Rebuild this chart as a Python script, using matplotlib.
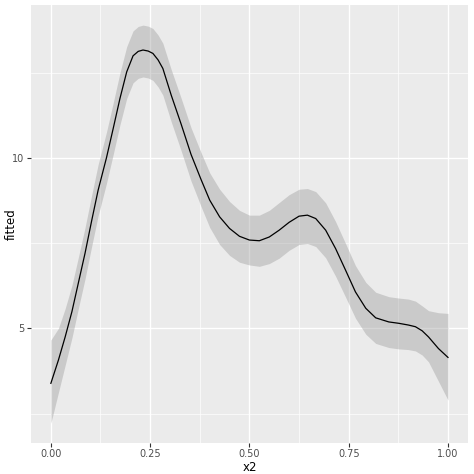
import numpy as np
import matplotlib
matplotlib.use("Agg")
import matplotlib.pyplot as plt

# values (smooth fit with its confidence band)
x2 = [0.000, 0.019, 0.036, 0.053, 0.069, 0.086, 0.103, 0.119, 0.140, 0.157,
      0.174, 0.191, 0.207, 0.220, 0.232, 0.245, 0.257, 0.270, 0.282, 0.303,
      0.328, 0.353, 0.378, 0.400, 0.425, 0.450, 0.475, 0.500, 0.525, 0.550,
      0.575, 0.600, 0.625, 0.646, 0.667, 0.692, 0.717, 0.742, 0.767, 0.793,
      0.818, 0.851, 0.876, 0.900, 0.918, 0.935, 0.951, 0.976, 1.000]
fitted = [3.39, 4.07, 4.75, 5.49, 6.32, 7.20, 8.17, 9.05, 10.00, 10.86,
          11.74, 12.52, 12.99, 13.12, 13.16, 13.13, 13.06, 12.87, 12.62, 11.84,
          10.99, 10.10, 9.37, 8.76, 8.27, 7.93, 7.70, 7.59, 7.57, 7.68,
          7.88, 8.11, 8.29, 8.32, 8.22, 7.88, 7.34, 6.71, 6.07, 5.59,
          5.31, 5.19, 5.15, 5.10, 5.05, 4.93, 4.75, 4.41, 4.15]
upper = [4.66, 5.00, 5.58, 6.26, 7.07, 7.95, 8.92, 9.80, 10.75, 11.61,
         12.49, 13.26, 13.72, 13.85, 13.89, 13.86, 13.79, 13.60, 13.36, 12.59,
         11.75, 10.88, 10.16, 9.56, 9.08, 8.72, 8.46, 8.32, 8.32, 8.46,
         8.69, 8.92, 9.08, 9.10, 9.01, 8.68, 8.13, 7.49, 6.84, 6.35,
         6.06, 5.93, 5.89, 5.86, 5.80, 5.66, 5.52, 5.46, 5.44]
lower = [2.22, 3.12, 3.92, 4.72, 5.57, 6.45, 7.42, 8.30, 9.25, 10.10,
         10.97, 11.74, 12.20, 12.33, 12.37, 12.34, 12.27, 12.08, 11.84, 11.06,
         10.21, 9.32, 8.58, 7.96, 7.46, 7.14, 6.94, 6.86, 6.82, 6.90,
         7.06, 7.29, 7.46, 7.49, 7.40, 7.07, 6.53, 5.92, 5.30, 4.83,
         4.56, 4.44, 4.40, 4.38, 4.34, 4.22, 4.02, 3.45, 2.90]

x_ticks = [0.0, 0.25, 0.5, 0.75, 1.0]
x_labels = ["0.00", "0.25", "0.50", "0.75", "1.00"]
y_ticks = [5, 10]

fig = plt.figure(figsize=(4.74, 4.74), dpi=100)
ax = fig.add_axes([0.0654, 0.066, 0.9216, 0.9235])
ax.set_facecolor("#EBEBEB")

ax.fill_between(x2, lower, upper, color="#999999", alpha=0.4, linewidth=0)
ax.plot(x2, fitted, color="black", linewidth=0.9, solid_joinstyle="round")

ax.set_xlim(-0.05, 1.05)
ax.set_ylim(1.65, 14.48)
ax.set_xticks(x_ticks)
ax.set_xticklabels(x_labels)
ax.set_yticks(y_ticks)
ax.set_xticks([0.125, 0.375, 0.625, 0.875], minor=True)
ax.set_yticks([2.5, 7.5, 12.5], minor=True)
ax.grid(which="major", color="white", linewidth=1.0)
ax.grid(which="minor", color="white", linewidth=0.5)
ax.set_axisbelow(True)
for s in ax.spines.values():
    s.set_visible(False)
ax.tick_params(which="major", length=2.7, width=0.8, color="#333333",
               labelcolor="#4D4D4D", labelsize=7, pad=2)
ax.tick_params(which="minor", length=0)

ax.set_xlabel("x2", fontsize=8.5, color="black", labelpad=1)
ax.set_ylabel("fitted", fontsize=8.5, color="black", va="center")
ax.yaxis.set_label_coords(-0.046, 0.5)

fig.savefig("out.png", dpi=100)
